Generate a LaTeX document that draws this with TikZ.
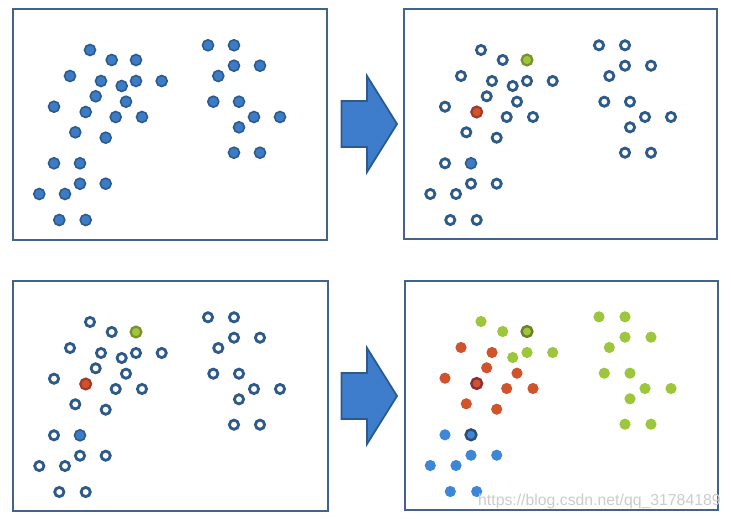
\documentclass[tikz,border=0pt]{standalone}
\usepackage{fontspec}
\newfontfamily\wmfont{Liberation Sans}
\definecolor{frame}{HTML}{43638D}
\definecolor{dotfill}{HTML}{3C7BC6}
\definecolor{dotline}{HTML}{2D5C8C}
\definecolor{ringline}{HTML}{2D5A88}
\definecolor{redc}{HTML}{D0532C}
\definecolor{redring}{HTML}{A03A2A}
\definecolor{greenc}{HTML}{9CC63C}
\definecolor{greenring}{HTML}{7A8F30}
\definecolor{bluec}{HTML}{3D87D6}
\definecolor{redring4}{HTML}{8A2F3A}
\definecolor{greenring4}{HTML}{6E7E2C}
\definecolor{bluering4}{HTML}{2E4C74}
\definecolor{arrowfill}{HTML}{3D7DCB}
\definecolor{arrowline}{HTML}{2C5A8C}
\tikzset{
  panel/.style={draw=frame,line width=2.8pt},
  fdot/.style={fill=dotfill,draw=dotline,line width=1.6pt},
  odot/.style={fill=white,draw=ringline,line width=2.8pt},
  blockarrow/.style={fill=arrowfill,draw=arrowline,line width=1.8pt,line join=miter},
}
\def\greenL{90/50,111.7/60,121.7/86,136/81,161.7/81,208/45.3,234/45.3,234/65.7,260/65.7,218.3/76,213.3/101.7,239/101.7,254/117,280/117,239/127.3,234/152.7,260/152.7}
\def\redL{70/76,101/81,95.7/96.3,126/101.7,54/106.7,115.7/117,142/117,75.3/132.3,105.7/137.7}
\def\blueL{54/163.3,80/183.7,105.7/183.7,39.3/194,65/194,59.3/220,85.7/220}
\edef\noncentL{\greenL,\redL,\blueL}
\edef\allL{\greenL,\redL,\blueL,136/60,85.7/112,80/163.3}
\begin{document}
\begin{tikzpicture}[x=1pt,y=-1pt]
\useasboundingbox (0,0) rectangle (731,519);
\fill[white] (0,0) rectangle (731,519);

% panel 1: all filled
\foreach \px/\py in \allL {\filldraw[fdot] (\px,\py) circle[radius=5.5pt];}
\draw[panel] (13,9) rectangle (327,240);

% panel 2 and 3: open rings with three coloured seeds
\foreach \sx/\sy in {391/0,0/272} {
  \begin{scope}[shift={(\sx,\sy)}]
    \foreach \px/\py in \noncentL {\filldraw[odot] (\px,\py) circle[radius=4.6pt];}
    \filldraw[fill=greenc,draw=greenring,line width=2.2pt] (136,60) circle[radius=5.4pt];
    \filldraw[fill=redc,draw=redring,line width=2.2pt] (85.7,112) circle[radius=5.4pt];
    \filldraw[fdot] (80,163.3) circle[radius=5.5pt];
  \end{scope}
}
\draw[panel] (404,9) rectangle (717,239);
\draw[panel] (13,281) rectangle (328,511);

% panel 4: clustered
\begin{scope}[shift={(391,271.5)}]
  \foreach \px/\py in \greenL {\fill[greenc] (\px,\py) circle[radius=5.6pt];}
  \foreach \px/\py in \redL {\fill[redc] (\px,\py) circle[radius=5.6pt];}
  \foreach \px/\py in \blueL {\fill[bluec] (\px,\py) circle[radius=5.6pt];}
  \filldraw[fill=greenc,draw=greenring4,line width=2.4pt] (136,60) circle[radius=5.4pt];
  \filldraw[fill=redc,draw=redring4,line width=2.4pt] (85.7,112) circle[radius=5.4pt];
  \filldraw[fill=bluec,draw=bluering4,line width=2.4pt] (80,163.3) circle[radius=5.4pt];
\end{scope}
\draw[panel] (405,281) rectangle (718,510);

% block arrows
\foreach \cy in {124,396} {
  \filldraw[blockarrow] (341.5,\cy-23) -- (367,\cy-23) -- (367,\cy-48) -- (397,\cy)
    -- (367,\cy+48) -- (367,\cy+23) -- (341.5,\cy+23) -- cycle;
}

% watermark
\node[anchor=base west,inner sep=0pt,text=black!20,font=\wmfont\fontsize{15.8}{18}\selectfont] (wm) at (478,505) {https://blog.csdn.net/qq\_31784189};
\end{tikzpicture}
\end{document}
